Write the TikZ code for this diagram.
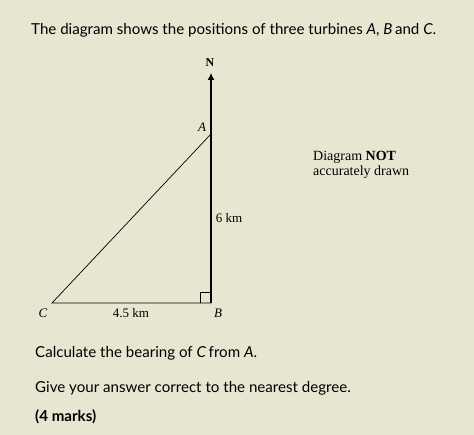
\documentclass[tikz,border=0pt]{standalone}
\usepackage{fontspec}
\setmainfont{Lato}
\newfontfamily\diagfont{Liberation Serif}
\usetikzlibrary{arrows.meta}
\definecolor{paper}{RGB}{230,230,209}
\tikzstyle{prose}=[anchor=base west, inner sep=0pt, font=\fontsize{15.1}{18}\selectfont]
\tikzstyle{ptname}=[inner sep=1pt, font=\diagfont\fontsize{13}{15}\selectfont\itshape]
\tikzstyle{length}=[inner sep=1pt, font=\diagfont\fontsize{13}{15}\selectfont]

\begin{document}
\begin{tikzpicture}[x=1pt, y=1pt]
	\fill[paper] (0,0) rectangle (474,435);
	\useasboundingbox (0,0) rectangle (474,435);
	% question text
	\node[prose] (title) at (31,400) {The diagram shows the positions of three turbines \textit{A}, \textit{B}\,and \textit{C}.};
	\node[prose] (ask) at (35,77) {Calculate the bearing of \textit{C}\,from \textit{A}.};
	\node[prose] (round) at (35,42) {Give your answer correct to the nearest degree.};
	\node[prose, font=\fontsize{15.1}{18}\selectfont\bfseries] (marks) at (35,13) {(4 marks)};
	% triangle
	\coordinate (A) at (211,301);
	\coordinate (B) at (211,132);
	\coordinate (C) at (52,132);
	\coordinate (N) at (211,362);
	\draw[line width=1.1pt, -{Latex[length=7pt,width=7pt]}] (B) -- (N);
	\draw[line width=0.7pt] (A) -- (C) -- (B);
	\draw[line width=0.7pt] (B) ++(-11,0) -- ++(0,11) -- ++(11,0);
	\node[length, font=\diagfont\fontsize{12}{14}\selectfont\bfseries] (Nlab) at (210,372) {N};
	\node[ptname] (Alab) at (202,308) {A};
	\node[ptname] (Blab) at (218,122) {B};
	\node[ptname] (Clab) at (43,122) {C};
	\node[length] (AB) at (229,217) {6 km};
	\node[length] (CB) at (131,122) {4.5 km};
	% note
	\node[length, anchor=base west, align=left, inner sep=0pt, font=\diagfont\fontsize{14}{15}\selectfont] (note) at (313,259) {Diagram \textbf{NOT}\\accurately drawn};
\end{tikzpicture}
\end{document}
